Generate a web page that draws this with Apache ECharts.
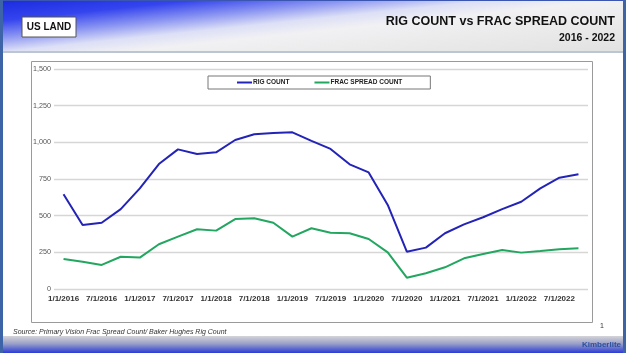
<!DOCTYPE html>
<html>
<head>
<meta charset="utf-8">
<script src="https://cdn.jsdelivr.net/npm/echarts@6/dist/echarts.min.js"></script>
<style>
  html, body { margin: 0; padding: 0; background: #fff; }
  #chart { width: 626px; height: 353px; }
</style>
</head>
<body>
<div id="chart"></div>
<script>
// quarterly points, Jan 2016 .. Oct 2022
const quarters = [
  '1/1/2016', '4/1/2016', '7/1/2016', '10/1/2016',
  '1/1/2017', '4/1/2017', '7/1/2017', '10/1/2017',
  '1/1/2018', '4/1/2018', '7/1/2018', '10/1/2018',
  '1/1/2019', '4/1/2019', '7/1/2019', '10/1/2019',
  '1/1/2020', '4/1/2020', '7/1/2020', '10/1/2020',
  '1/1/2021', '4/1/2021', '7/1/2021', '10/1/2021',
  '1/1/2022', '4/1/2022', '7/1/2022', '10/1/2022'
];
const rigCount = [646, 436, 452, 545, 686, 852, 952, 920, 932, 1016, 1055, 1064, 1068, 1010,
                  955, 850, 795, 573, 254, 282, 380, 441, 489, 545, 595, 686, 759, 782];
const fracSpread = [205, 186, 164, 220, 214, 305, 357, 407, 398, 477, 482, 452, 357, 414,
                    384, 380, 341, 250, 77, 107, 148, 209, 239, 266, 248, 259, 271, 277];
const seriesNames = ['RIG COUNT', 'FRAC SPREAD COUNT'];

const font = '"Liberation Sans", Arial, sans-serif';
let chart = echarts.init(document.getElementById('chart'));

chart.setOption({
  backgroundColor: '#fff',
  animation: false,
  graphic: [
    // header band
    {
      type: 'rect', z: -10, silent: true,
      shape: { x: 0, y: 0, width: 626, height: 51 },
      style: {
        fill: new echarts.graphic.LinearGradient(0, 0, 12, 114, [
          { offset: 0, color: '#1a2be0' },
          { offset: 0.18, color: '#3444ee' },
          { offset: 0.33, color: '#8e98f2' },
          { offset: 0.45, color: '#dcdff6' },
          { offset: 0.56, color: '#f1f1f3' },
          { offset: 1, color: '#e2e2e2' }
        ], true)
      }
    },
    { type: 'rect', z: -9, silent: true, shape: { x: 0, y: 51, width: 626, height: 2 }, style: { fill: '#bcc6d2' } },
    { type: 'rect', z: -9, silent: true, shape: { x: 0, y: 0, width: 626, height: 1 }, style: { fill: '#3a56b0' } },
    // side bars
    { type: 'rect', z: -8, silent: true, shape: { x: 0, y: 0, width: 3, height: 353 }, style: { fill: '#3e64a8' } },
    { type: 'rect', z: -8, silent: true, shape: { x: 623, y: 0, width: 3, height: 353 }, style: { fill: '#3e64a8' } },
    // footer band
    {
      type: 'rect', z: -9, silent: true,
      shape: { x: 0, y: 336, width: 626, height: 17 },
      style: {
        fill: new echarts.graphic.LinearGradient(0, 0, 0, 1, [
          { offset: 0, color: '#d4d4d8' },
          { offset: 0.45, color: '#9aa0c8' },
          { offset: 1, color: '#2b3bd6' }
        ])
      }
    },
    // US LAND box
    {
      type: 'rect', z: 5, silent: true,
      shape: { x: 22, y: 17, width: 54, height: 20 },
      style: { fill: '#fff', stroke: '#555', lineWidth: 1 }
    },
    {
      type: 'text', z: 6, silent: true, x: 49, y: 27,
      style: { text: 'US LAND', font: 'bold 10px ' + font, fill: '#111', align: 'center', verticalAlign: 'middle' }
    },
    // titles
    {
      type: 'text', z: 6, silent: true, x: 615, y: 22,
      style: { text: 'RIG COUNT vs FRAC SPREAD COUNT', font: 'bold 12.5px ' + font, fill: '#111', align: 'right', verticalAlign: 'middle' }
    },
    {
      type: 'text', z: 6, silent: true, x: 615, y: 38,
      style: { text: '2016 - 2022', font: 'bold 10.5px ' + font, fill: '#111', align: 'right', verticalAlign: 'middle' }
    },
    // plot frame
    {
      type: 'rect', z: -5, silent: true,
      shape: { x: 31.5, y: 61.5, width: 561, height: 261 },
      style: { fill: 'none', stroke: '#9a9a9a', lineWidth: 1 }
    },
    // source, page number, brand
    {
      type: 'text', z: 6, silent: true, x: 13, y: 332,
      style: { text: 'Source: Primary Vision Frac Spread Count/ Baker Hughes Rig Count', font: 'italic 7px ' + font, fill: '#333', verticalAlign: 'middle' }
    },
    {
      type: 'text', z: 6, silent: true, x: 602, y: 326,
      style: { text: '1', font: '7px ' + font, fill: '#333', align: 'center', verticalAlign: 'middle' }
    },
    {
      type: 'text', z: 6, silent: true, x: 621, y: 345,
      style: { text: 'Kimberlite', font: 'bold 8px ' + font, fill: '#2d4f9e', align: 'right', verticalAlign: 'middle' }
    }
  ],
  legend: {
    data: seriesNames,
    left: 208,
    top: 76,
    padding: [3, 28, 3, 29],
    borderColor: '#777',
    borderWidth: 1,
    itemGap: 25,
    itemWidth: 15,
    itemHeight: 2,
    icon: 'rect',
    textStyle: { fontFamily: font, fontWeight: 'bold', fontSize: 6.5, color: '#222', padding: [0, 0, 0, -4] }
  },
  grid: {
    left: 54,
    right: 38,
    top: 69,
    bottom: 64
  },
  xAxis: {
    type: 'category',
    data: quarters,
    boundaryGap: true,
    axisLine: { show: false },
    axisTick: { show: false },
    axisLabel: {
      interval: 1,
      margin: 6,
      fontFamily: font,
      fontWeight: 'bold',
      fontSize: 8,
      color: '#333'
    }
  },
  yAxis: {
    type: 'value',
    min: 0,
    max: 1500,
    interval: 250,
    axisLine: { show: false },
    axisTick: { show: false },
    axisLabel: {
      margin: 3,
      fontFamily: font,
      fontSize: 7.2,
      color: '#555',
      formatter: (v) => v.toLocaleString('en-US')
    },
    splitLine: { lineStyle: { color: '#d6d6d6', width: 1.3 } }
  },
  series: [
    {
      name: seriesNames[0],
      type: 'line',
      data: rigCount,
      symbol: 'none',
      color: '#2323b8',
      lineStyle: { width: 2, color: '#2323b8' }
    },
    {
      name: seriesNames[1],
      type: 'line',
      data: fracSpread,
      symbol: 'none',
      color: '#22a660',
      lineStyle: { width: 2, color: '#22a660' }
    }
  ]
});
</script>
</body>
</html>
